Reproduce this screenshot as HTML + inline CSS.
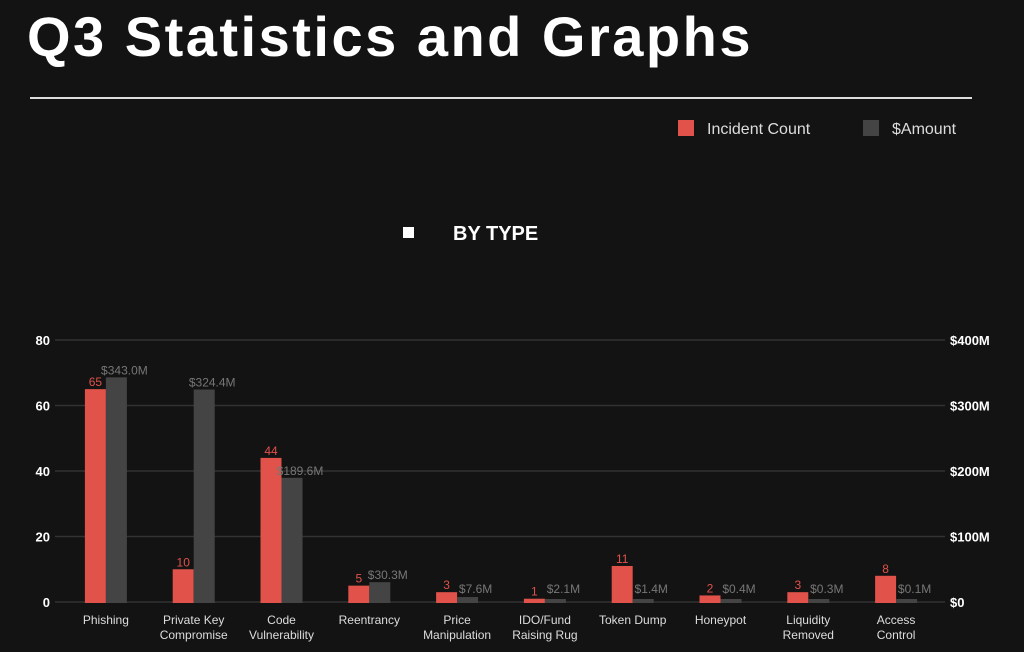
<!DOCTYPE html>
<html><head><meta charset="utf-8"><style>
body{margin:0;background:#131313;width:1024px;height:647px;overflow:hidden;font-family:"Liberation Sans",sans-serif}
</style></head><body>
<svg width="1024" height="647" id="svg" xmlns="http://www.w3.org/2000/svg">
<rect width="1024" height="647" fill="#131313"/>
<text x="27" y="56" fill="#fff" font-size="56" font-weight="bold" letter-spacing="2.5">Q3 Statistics and Graphs</text>
<rect x="30" y="97" width="942" height="2" fill="#ddd"/>
<rect x="678" y="120" width="16" height="16" fill="#e0524a"/>
<text x="707" y="134" fill="#ddd" font-size="16">Incident Count</text>
<rect x="863" y="120" width="16" height="16" fill="#444"/>
<text x="892" y="134" fill="#ddd" font-size="16">$Amount</text>
<rect x="403" y="227" width="11" height="11" fill="#fff"/>
<text x="453" y="240" fill="#fff" font-size="20" font-weight="bold">BY TYPE</text>
<g id="plot"></g>
</svg>
<script>
const categories=[["Phishing"],["Private Key","Compromise"],["Code","Vulnerability"],["Reentrancy"],["Price","Manipulation"],["IDO/Fund","Raising Rug"],["Token Dump"],["Honeypot"],["Liquidity","Removed"],["Access","Control"]];
const counts=[65,10,44,5,3,1,11,2,3,8];
const amounts=[343.0,324.4,189.6,30.3,7.6,2.1,1.4,0.4,0.3,0.1];
const leftTicks=[0,20,40,60,80];
const rightTicks=[0,100,200,300,400];
const NS="http://www.w3.org/2000/svg";
const g=document.getElementById('plot');
const x0=62,x1=940,y0=602,y1=340;
const yL=v=>y0-(v/80)*(y0-y1);
const yR=v=>y0-(v/400)*(y0-y1);
const step=(x1-x0)/categories.length;
const xc=i=>x0+step*(i+0.5);
function el(t,a){const e=document.createElementNS(NS,t);for(const k in a)e.setAttribute(k,a[k]);g.appendChild(e);return e;}
leftTicks.forEach((t,i)=>{
 const l=el('line',{x1:55,x2:945,y1:yL(t),y2:yL(t),stroke:'#333','stroke-width':1.5});
 
 
 const tx=el('text',{x:50,y:yL(t)+5,fill:'#fff','font-size':13,'font-weight':'bold','text-anchor':'end'});tx.textContent=t;
 
 
});
rightTicks.forEach(t=>{
 const tx=el('text',{x:950,y:yR(t)+5,fill:'#fff','font-size':13,'font-weight':'bold'});tx.textContent='$'+(t===0?'0':t+'M');
 
 
});
const bw=21;
categories.forEach((c,i)=>{
 const cx=xc(i);
 const r=el('rect',{x:cx-bw,y:yL(counts[i]),width:bw,height:y0-yL(counts[i])+1,fill:'#e0524a'});
 
 
 const gy=Math.min(yR(amounts[i]),y0-3);
 const b=el('rect',{x:cx,y:gy,width:bw,height:y0-gy+1,fill:'#444'});
 
 
 const t1=el('text',{x:cx-bw/2,y:yL(counts[i])-3,fill:'#e0524a','font-size':12,'text-anchor':'middle'});t1.textContent=counts[i];
 
 
 const t2=el('text',{x:cx+bw/2+8,y:Math.min(yR(amounts[i]),y0-6)-3,fill:'#777','font-size':12,'text-anchor':'middle'});t2.textContent='$'+amounts[i].toFixed(1)+'M';
 
 
 c.forEach((line,j)=>{
  const t=el('text',{x:cx,y:624+j*15,fill:'#ddd','font-size':12,'text-anchor':'middle'});t.textContent=line;
  
  
 });
});
</script>
</body></html>
